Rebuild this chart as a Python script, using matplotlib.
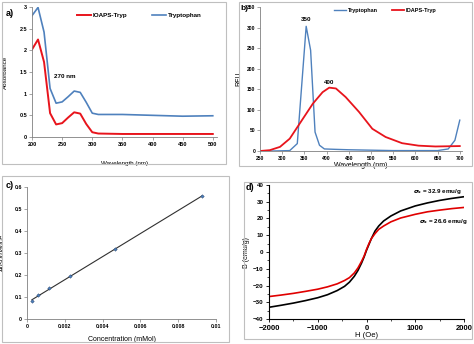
import numpy as np
import matplotlib.pyplot as plt
from matplotlib.patches import Rectangle
from matplotlib.ticker import MultipleLocator

plt.rcParams['font.family'] = ['Liberation Sans', 'DejaVu Sans']
plt.rcParams['font.weight'] = 'bold'

W, H = 474, 344

# a) UV-vis absorbance
wl_a = [200, 210, 220, 230, 240, 250, 260, 270, 280, 290, 300, 310, 350, 400, 450, 500]
abs_tryp = [2.80, 2.99, 2.42, 1.12, 0.78, 0.81, 0.93, 1.06, 1.03, 0.80, 0.55, 0.52, 0.52, 0.50, 0.48, 0.49]
abs_ioaps = [2.02, 2.25, 1.73, 0.55, 0.29, 0.32, 0.45, 0.57, 0.54, 0.30, 0.11, 0.08, 0.07, 0.07, 0.07, 0.07]

# b) fluorescence
wl_b_tryp = [250, 280, 317, 334, 354, 364, 374, 384, 395, 420, 450, 500, 550, 600, 650, 674, 689, 700]
rfu_tryp = [0, 0, 1, 18, 303, 245, 46, 14, 5, 4, 3, 2, 1, 1, 1, 5, 26, 75]
wl_b_ioaps = [250, 272, 295, 317, 339, 369, 391, 406, 421, 443, 473, 503, 533, 570, 607, 645, 700]
rfu_ioaps = [0, 2, 10, 30, 66, 115, 143, 154, 152, 131, 95, 54, 34, 19, 13, 11, 12]

# c) calibration
conc = [0.00026, 0.00056, 0.00116, 0.00229, 0.00463, 0.00926]
absorb = [0.080, 0.107, 0.139, 0.194, 0.316, 0.559]

# d) magnetization
field = [-2000, -1750, -1500, -1250, -1000, -800, -600, -450, -350, -250, -175, -100, -50,
         0, 50, 100, 175, 250, 350, 500, 700, 1000, 1250, 1500, 1750, 2000]
mag_bare = [-33, -31.8, -30.5, -29, -27.3, -25.5, -23, -20.5, -18, -14.5, -11, -6.5, -3,
            1, 4.5, 8, 12.5, 15.5, 18.5, 21.5, 24.5, 27.5, 29.3, 30.8, 32, 33]
mag_coated = [-26.6, -25.7, -24.7, -23.5, -22.2, -20.8, -19, -17, -15.3, -12.5, -9.5, -5.5, -2.5,
              1.5, 5, 8, 11, 13.5, 15.5, 18, 20.3, 22.5, 24, 25, 25.9, 26.6]

blue = '#4f81bd'
red = '#e8141c'
gray = '#bfbfbf'

fig = plt.figure(figsize=(W / 100, H / 100), dpi=100)


def px_axes(l, t, r, b):
    return fig.add_axes([l / W, 1 - b / H, (r - l) / W, (b - t) / H])


def box(l, t, r, b):
    fig.patches.append(Rectangle((l / W, 1 - b / H), (r - l) / W, (b - t) / H,
                                 transform=fig.transFigure, fill=False,
                                 edgecolor=gray, linewidth=0.8))


def excel_style(ax, fs=4):
    for s in ['top', 'right']:
        ax.spines[s].set_visible(False)
    for s in ['left', 'bottom']:
        ax.spines[s].set_color('#808080')
        ax.spines[s].set_linewidth(0.6)
    ax.tick_params(labelsize=fs, length=2, width=0.5, color='#808080', pad=1.5)


box(2, 2, 226, 164)
box(239, 2, 472, 166)
box(2, 176, 229, 342)
box(244, 182, 472, 339)

# panel a
ax = px_axes(32, 7, 217, 137)
ax.plot(wl_a, abs_ioaps, color=red, lw=1.4, label='IOAPS-Tryp')
ax.plot(wl_a, abs_tryp, color=blue, lw=1.2, label='Tryptophan')
ax.set_xlim(200, 507)
ax.set_ylim(0, 3)
ax.set_xticks(range(200, 501, 50))
ax.set_yticks([0, 0.5, 1, 1.5, 2, 2.5, 3])
ax.set_yticklabels(['0', '0.5', '1', '1.5', '2', '2.5', '3'])
excel_style(ax)
ax.set_xlabel('Wavelength (nm)', fontsize=4.5, labelpad=10)
ax.set_ylabel('Absorbance', fontsize=4.5, labelpad=8)
ax.text(254, 1.4, '270 nm', fontsize=4.5, ha='center', va='center')
ax.legend(loc='upper center', bbox_to_anchor=(0.58, 1.0), ncol=2, frameon=False,
          fontsize=4.5, handlelength=2.2, columnspacing=4, handletextpad=0.3)
fig.text(6 / W, 1 - 13 / H, 'a)', fontsize=6.5, va='center')

# panel b
ax = px_axes(260, 7, 462, 151)
ax.plot(wl_b_tryp, rfu_tryp, color=blue, lw=1.0, label='Tryptophan')
ax.plot(wl_b_ioaps, rfu_ioaps, color=red, lw=1.3, label='IOAPS-Tryp')
ax.set_xlim(250, 705)
ax.set_ylim(0, 350)
ax.set_xticks(range(250, 701, 50))
ax.set_yticks(range(0, 351, 50))
excel_style(ax, fs=3.6)
ax.set_xlabel('Wavelength (nm)', fontsize=5, labelpad=1)
ax.set_ylabel('RFU', fontsize=5, labelpad=3)
ax.text(353, 313, '350', fontsize=4.5, ha='center', va='bottom')
ax.text(406, 160, '400', fontsize=4.5, ha='center', va='bottom')
ax.legend(loc='upper center', bbox_to_anchor=(0.62, 1.03), ncol=2, frameon=False,
          fontsize=4, handlelength=2.2, columnspacing=2.5, handletextpad=0.3)
fig.text(240 / W, 1 - 9 / H, 'b)', fontsize=6, va='center')

# panel c
ax = px_axes(27, 187, 216, 319)
fit = np.polyfit(conc, absorb, 1)
ax.plot([conc[0], conc[-1]], np.polyval(fit, [conc[0], conc[-1]]), color='#303030', lw=0.8)
ax.plot(conc, absorb, 'D', ms=1.8, color=blue, mec='#1f3d66', mew=0.3)
ax.set_xlim(0, 0.01)
ax.set_ylim(0, 0.6)
ax.set_xticks([0, 0.002, 0.004, 0.006, 0.008, 0.01])
ax.set_xticklabels(['0', '0.002', '0.004', '0.006', '0.008', '0.01'])
ax.set_yticks([0, 0.1, 0.2, 0.3, 0.4, 0.5, 0.6])
ax.set_yticklabels(['0', '0.1', '0.2', '0.3', '0.4', '0.5', '0.6'])
excel_style(ax, fs=3.8)
ax.set_xlabel('Concentration (mMol)', fontsize=5, labelpad=5)
ax.set_ylabel('Absorbance', fontsize=5, style='italic', labelpad=6)
fig.text(6 / W, 1 - 186 / H, 'c)', fontsize=6.5, va='center')

# panel d
ax = px_axes(269, 185, 464, 319)
ax.plot(field, mag_bare, color='black', lw=1.2)
ax.plot(field, mag_coated, color='#e00000', lw=1.2)
ax.set_xlim(-2000, 2000)
ax.set_ylim(-40, 40)
ax.set_xticks([-2000, -1000, 0, 1000, 2000])
ax.set_yticks(range(-40, 41, 10))
ax.xaxis.set_minor_locator(MultipleLocator(500))
ax.yaxis.set_minor_locator(MultipleLocator(5))
for s in ['top', 'right']:
    ax.spines[s].set_visible(False)
for s in ['left', 'bottom']:
    ax.spines[s].set_linewidth(0.8)
ax.tick_params(axis='x', which='major', labelsize=5.5, length=2.5, width=0.6, pad=1.5)
ax.tick_params(axis='y', which='major', labelsize=4.5, length=2.5, width=0.6, pad=1.5)
ax.tick_params(which='minor', length=1.5, width=0.5)
ax.set_xlabel('H (Oe)', fontsize=5.5, labelpad=0)
ax.set_ylabel('B (emu/g)', fontsize=5, labelpad=2)
ax.text(0.99, 0.955, r'$\sigma_s$ = 32.9 emu/g', transform=ax.transAxes,
        fontsize=4.5, ha='right', va='center')
ax.text(1.02, 0.73, r'$\sigma_s$ = 26.6 emu/g', transform=ax.transAxes,
        fontsize=4.5, ha='right', va='center')
fig.text(246 / W, 1 - 187 / H, 'd)', fontsize=6.5, va='center')

fig.savefig('out.png', dpi=100)
